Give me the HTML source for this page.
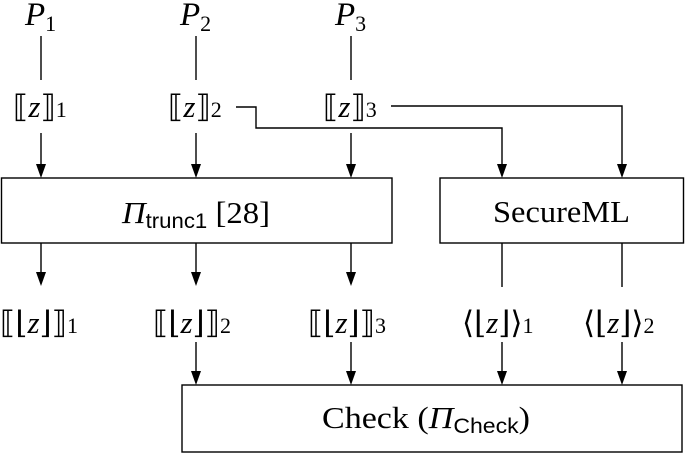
<!DOCTYPE html>
<html><head><meta charset="utf-8"><style>
html,body{margin:0;padding:0;background:#fff;}
svg{display:block}
text{font-family:"Liberation Serif","DejaVu Serif",serif;fill:#000}
.i{font-style:italic}
.s{font-family:"Liberation Sans","DejaVu Sans",sans-serif}
</style></head><body>
<svg width="685" height="453" viewBox="0 0 685 453" xmlns="http://www.w3.org/2000/svg">
<g stroke="#000" stroke-width="1.4" fill="none">
<line x1="41" y1="36" x2="41" y2="80"/><line x1="196" y1="36" x2="196" y2="80"/><line x1="351" y1="36" x2="351" y2="80"/>
<path d="M41 133 V164"/><path d="M196 133 V164"/><path d="M351 133 V164"/>
<path d="M236 107 H256 V128 H502 V164"/>
<path d="M391 106 H622 V164"/>
<rect x="1.5" y="178" width="390.5" height="65"/>
<rect x="440" y="178" width="243.5" height="65"/>
<rect x="182" y="385" width="500" height="67"/>
<path d="M41 243 V272"/><path d="M196 243 V272"/><path d="M351 243 V272"/>
<path d="M502 243 V287"/><path d="M622 243 V287"/>
<path d="M196 342 V371"/><path d="M351 342 V371"/><path d="M502 342 V371"/><path d="M622 342 V371"/>
</g>
<g fill="#000">
<path d="M36 164 H46 L41 178 z"/><path d="M191 164 H201 L196 178 z"/><path d="M346 164 H356 L351 178 z"/>
<path d="M497 164 H507 L502 178 z"/><path d="M617 164 H627 L622 178 z"/>
<path d="M36 272 H46 L41 286 z"/><path d="M191 272 H201 L196 286 z"/><path d="M346 272 H356 L351 286 z"/>
<path d="M191 371 H201 L196 385 z"/><path d="M346 371 H356 L351 385 z"/><path d="M497 371 H507 L502 385 z"/><path d="M617 371 H627 L622 385 z"/>
</g>
<g font-size="33">
<text x="25" y="25" class="i">P<tspan font-size="22" font-style="normal" dy="6">1</tspan></text>
<text x="180" y="25" class="i">P<tspan font-size="22" font-style="normal" dy="6">2</tspan></text>
<text x="335" y="25" class="i">P<tspan font-size="22" font-style="normal" dy="6">3</tspan></text>
</g>
<g font-size="31">
<text x="13" y="117">⟦<tspan class="i">z</tspan>⟧<tspan font-size="22">1</tspan></text>
<text x="168" y="117">⟦<tspan class="i">z</tspan>⟧<tspan font-size="22">2</tspan></text>
<text x="323" y="117">⟦<tspan class="i">z</tspan>⟧<tspan font-size="22">3</tspan></text>
<text x="0" y="333">⟦⌊<tspan class="i">z</tspan>⌋⟧<tspan font-size="22">1</tspan></text>
<text x="153" y="333">⟦⌊<tspan class="i">z</tspan>⌋⟧<tspan font-size="22">2</tspan></text>
<text x="308" y="333">⟦⌊<tspan class="i">z</tspan>⌋⟧<tspan font-size="22">3</tspan></text>
<text x="462" y="333">⟨⌊<tspan class="i">z</tspan>⌋⟩<tspan font-size="22">1</tspan></text>
<text x="583" y="333">⟨⌊<tspan class="i">z</tspan>⌋⟩<tspan font-size="22">2</tspan></text>
</g>
<text x="122" y="223" font-size="31" textLength="148" lengthAdjust="spacingAndGlyphs"><tspan class="i">Π</tspan><tspan class="s" font-size="21" dy="5">trunc1</tspan><tspan dy="-5"> [28]</tspan></text>
<text x="493" y="222" font-size="31" textLength="137" lengthAdjust="spacingAndGlyphs">SecureML</text>
<text x="322" y="428" font-size="31" textLength="208" lengthAdjust="spacingAndGlyphs">Check (<tspan class="i">Π</tspan><tspan class="s" font-size="21" dy="5">Check</tspan><tspan dy="-5">)</tspan></text>
</svg>
</body></html>
